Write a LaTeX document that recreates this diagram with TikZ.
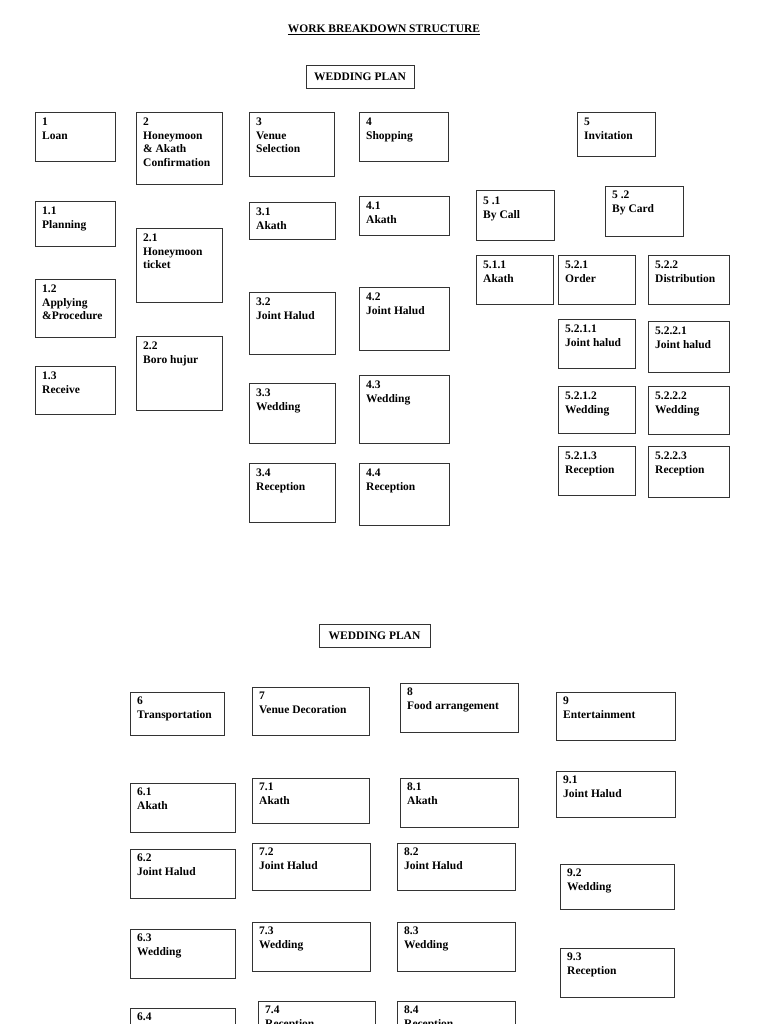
\documentclass[tikz,border=0pt]{standalone}
\usepackage{fontspec}
\setmainfont{Liberation Serif}
\tikzset{
  wbox/.style={draw=black!80, line width=0.8pt, inner sep=0pt, outer sep=0pt, anchor=north west},
  wtext/.style={inner sep=0pt, anchor=north west, align=left, font=\bfseries\fontsize{11.5}{13.5}\selectfont},
  wplan/.style={draw=black!80, line width=0.8pt, inner sep=0pt, outer sep=0pt, anchor=north west, font=\bfseries\fontsize{11.5}{13.5}\selectfont},
  wtitle/.style={inner sep=0pt, font=\bfseries\fontsize{11.5}{13.5}\selectfont}
}
\newcommand\wb[7][6]{%
  \node[wbox, minimum width=#5-#3, minimum height=#6-#4] (#2) at (#3,-#4) {};
  \node[wtext] (#2t) at ([shift={(7,-#1)}]#2.north west) {#7};
}
\begin{document}
\begin{tikzpicture}[x=1pt,y=1pt]
\useasboundingbox (0,0) rectangle (768,-1024);
\clip (0,0) rectangle (768,-1024);
\fill[white] (0,0) rectangle (768,-1024);

\node[wtitle] (title) at (384,-30) {\underline{WORK BREAKDOWN STRUCTURE}};
\node[wplan, minimum width=108, minimum height=23] (wp1) at (306,-65) {WEDDING PLAN};

\wb{b1}{35}{112}{115}{161}{1\\Loan}
\wb{b2}{136}{112}{222}{184}{2\\Honeymoon\\\& Akath\\Confirmation}
\wb{b3}{249}{112}{334}{176}{3\\Venue\\Selection}
\wb{b4}{359}{112}{448}{161}{4\\Shopping}
\wb{b5}{577}{112}{655}{156}{5\\Invitation}

\wb{b11}{35}{201}{115}{246}{1.1\\Planning}
\wb{b12}{35}{279}{115}{337}{1.2\\Applying\\\&Procedure}
\wb{b13}{35}{366}{115}{414}{1.3\\Receive}
\wb{b21}{136}{228}{222}{302}{2.1\\Honeymoon\\ticket}
\wb{b22}{136}{336}{222}{410}{2.2\\Boro hujur}
\wb{b31}{249}{202}{335}{239}{3.1\\Akath}
\wb{b32}{249}{292}{335}{354}{3.2\\Joint Halud}
\wb{b33}{249}{383}{335}{443}{3.3\\Wedding}
\wb{b34}{249}{463}{335}{522}{3.4\\Reception}
\wb{b41}{359}{196}{449}{235}{4.1\\Akath}
\wb{b42}{359}{287}{449}{350}{4.2\\Joint Halud}
\wb{b43}{359}{375}{449}{443}{4.3\\Wedding}
\wb{b44}{359}{463}{449}{525}{4.4\\Reception}
\wb[7]{b51}{476}{190}{554}{240}{5 .1\\By Call}
\wb[5]{b52}{605}{186}{683}{236}{5 .2\\By Card}
\wb{b511}{476}{255}{553}{304}{5.1.1\\Akath}
\wb{b521}{558}{255}{635}{304}{5.2.1\\Order}
\wb{b522}{648}{255}{729}{304}{5.2.2\\Distribution}
\wb{b5211}{558}{319}{635}{368}{5.2.1.1\\Joint halud}
\wb{b5221}{648}{321}{729}{372}{5.2.2.1\\Joint halud}
\wb{b5212}{558}{386}{635}{433}{5.2.1.2\\Wedding}
\wb{b5222}{648}{386}{729}{434}{5.2.2.2\\Wedding}
\wb{b5213}{558}{446}{635}{495}{5.2.1.3\\Reception}
\wb{b5223}{648}{446}{729}{497}{5.2.2.3\\Reception}

\node[wplan, minimum width=111, minimum height=23] (wp2) at (319,-624) {WEDDING PLAN};

\wb[5]{b6}{130}{692}{224}{735}{6\\Transportation}
\wb[5]{b7}{252}{687}{369}{735}{7\\Venue Decoration}
\wb[5]{b8}{400}{683}{518}{732}{8\\Food arrangement}
\wb[5]{b9}{556}{692}{675}{740}{9\\Entertainment}
\wb[5]{b61}{130}{783}{235}{832}{6.1\\Akath}
\wb[5]{b71}{252}{778}{369}{823}{7.1\\Akath}
\wb[5]{b81}{400}{778}{518}{827}{8.1\\Akath}
\wb[5]{b91}{556}{771}{675}{817}{9.1\\Joint Halud}
\wb[5]{b62}{130}{849}{235}{898}{6.2\\Joint Halud}
\wb[5]{b72}{252}{843}{370}{890}{7.2\\Joint Halud}
\wb[5]{b82}{397}{843}{515}{890}{8.2\\Joint Halud}
\wb[5]{b92}{560}{864}{674}{909}{9.2\\Wedding}
\wb[5]{b63}{130}{929}{235}{978}{6.3\\Wedding}
\wb[5]{b73}{252}{922}{370}{971}{7.3\\Wedding}
\wb[5]{b83}{397}{922}{515}{971}{8.3\\Wedding}
\wb[5]{b93}{560}{948}{674}{997}{9.3\\Reception}
\wb[5]{b64}{130}{1008}{235}{1060}{6.4}
\wb[5]{b74}{258}{1001}{375}{1060}{7.4\\Reception}
\wb[5]{b84}{397}{1001}{515}{1060}{8.4\\Reception}
\end{tikzpicture}
\end{document}
